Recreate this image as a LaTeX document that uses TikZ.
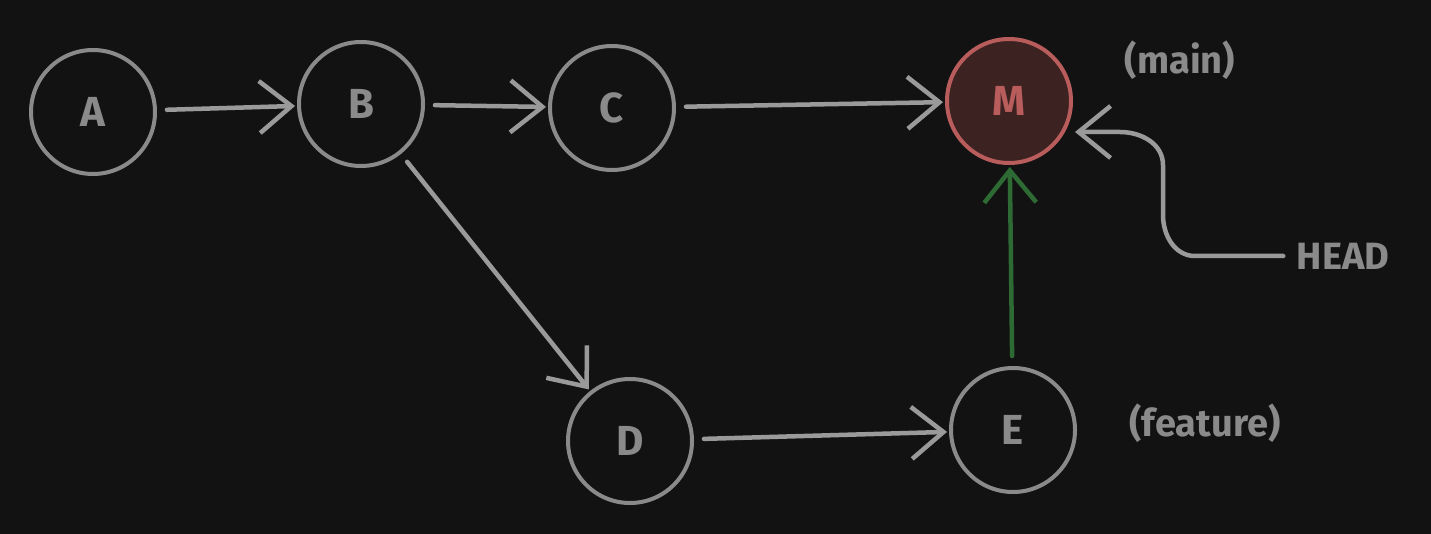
\documentclass[tikz,border=0pt]{standalone}
\usepackage{fontspec}
\setmainfont{Fira Sans}
\usetikzlibrary{arrows.meta}
\definecolor{bg}{HTML}{121212}
\definecolor{gr}{HTML}{8A8A8A}
\definecolor{ln}{HTML}{9A9A9A}
\definecolor{mfill}{HTML}{3D2222}
\definecolor{mdraw}{HTML}{B85C5C}
\definecolor{grn}{HTML}{2E6B34}
\tikzset{
 commit/.style={circle,draw=gr,line width=4pt,minimum size=124pt,inner sep=0pt,text=gr,font=\fontsize{42}{46}\selectfont\bfseries},
 lbl/.style={text=gr,font=\fontsize{38}{42}\selectfont\bfseries},
 conn/.style={draw=ln,line width=4.5pt,line cap=round,shorten <=10pt,shorten >=2pt,-{Straight Barb[length=32pt,width=52pt,line width=4.5pt]}}
}
\begin{document}
\begin{tikzpicture}[x=1pt,y=-1pt]
\fill[bg] (0,0) rectangle (1431,534);
\useasboundingbox (0,0) rectangle (1431,534);
\node[commit] (A) at (93,112) {A};
\node[commit] (B) at (361,104) {B};
\node[commit] (C) at (612,108) {C};
\node[commit,fill=mfill,draw=mdraw,text=mdraw] (M) at (1009,101) {M};
\node[commit] (D) at (630,441) {D};
\node[commit] (E) at (1013,430) {E};
\node[lbl] (main) at (1180,60) {(main)};
\node[lbl] (head) at (1343,256) {HEAD};
\node[lbl] (feat) at (1205,423) {(feature)};
\draw[conn] (A) -- (B);
\draw[conn] (B) -- (C);
\draw[conn] (C) -- (M);
\draw[conn] (B) -- (D);
\draw[conn] (D) -- (E);
\draw[conn,draw=grn] (E) -- (M);
\draw[conn] (head.west) -- (1195,256) to[out=180,in=-90] (1163,215) -- (1163,165) to[out=90,in=0] (1120,132) -- (M.east|-0,132);
\end{tikzpicture}
\end{document}
